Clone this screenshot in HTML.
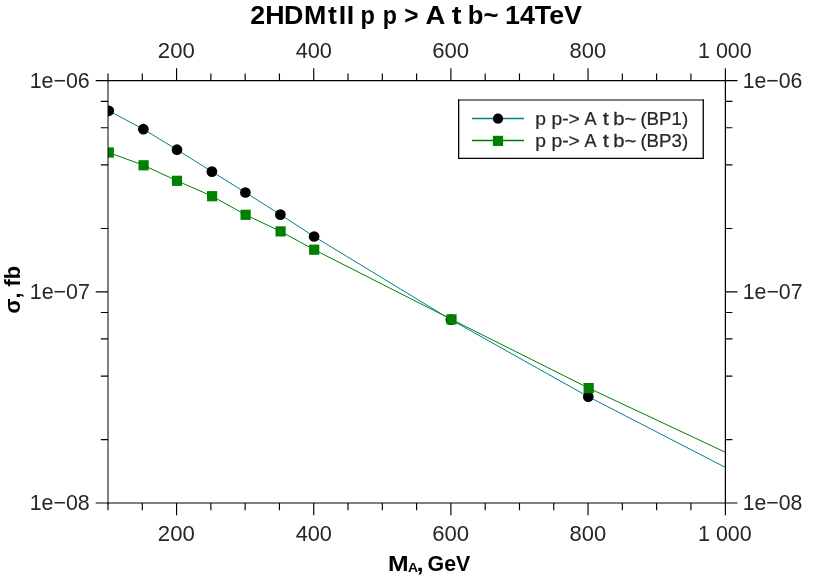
<!DOCTYPE html>
<html lang="en"><head><meta charset="utf-8"><title>2HDMtII p p &gt; A t b~ 14TeV</title>
<style>html,body{margin:0;padding:0;background:#fff;width:833px;height:576px;overflow:hidden}svg text{white-space:pre}</style>
</head><body>
<svg width="833" height="576" viewBox="0 0 833 576" style="display:block">
<rect width="833" height="576" fill="#fff"/>
<defs><clipPath id="c"><rect x="108.0" y="80.65" width="617.2" height="422.35"/></clipPath></defs>
<g clip-path="url(#c)">
<polyline fill="none" stroke="#008088" stroke-width="1.0" points="108.8,110.8 143.4,129.2 177.0,149.7 211.9,171.6 245.4,192.5 280.4,214.6 314.1,236.5 450.9,319.7 588.3,396.7 725.4,467.4"/>
<circle cx="108.8" cy="110.8" r="5.35" fill="#000"/>
<circle cx="143.4" cy="129.2" r="5.35" fill="#000"/>
<circle cx="177.0" cy="149.7" r="5.35" fill="#000"/>
<circle cx="211.9" cy="171.6" r="5.35" fill="#000"/>
<circle cx="245.4" cy="192.5" r="5.35" fill="#000"/>
<circle cx="280.4" cy="214.6" r="5.35" fill="#000"/>
<circle cx="314.1" cy="236.5" r="5.35" fill="#000"/>
<circle cx="450.9" cy="319.7" r="5.35" fill="#000"/>
<circle cx="588.3" cy="396.7" r="5.35" fill="#000"/>
<polyline fill="none" stroke="#008000" stroke-width="1.0" points="108.8,152.5 143.6,165.3 177.0,180.8 212.1,196.2 245.6,214.8 280.6,231.4 314.2,249.7 451.5,319.4 588.7,388.1 725.4,452.3"/>
<rect x="103.70" y="147.40" width="10.2" height="10.2" fill="#008000"/>
<rect x="138.50" y="160.20" width="10.2" height="10.2" fill="#008000"/>
<rect x="171.90" y="175.70" width="10.2" height="10.2" fill="#008000"/>
<rect x="207.00" y="191.10" width="10.2" height="10.2" fill="#008000"/>
<rect x="240.50" y="209.70" width="10.2" height="10.2" fill="#008000"/>
<rect x="275.50" y="226.30" width="10.2" height="10.2" fill="#008000"/>
<rect x="309.10" y="244.60" width="10.2" height="10.2" fill="#008000"/>
<rect x="446.40" y="314.30" width="10.2" height="10.2" fill="#008000"/>
<rect x="583.60" y="383.00" width="10.2" height="10.2" fill="#008000"/>
</g>
<g stroke="#000" fill="none">
<path stroke-width="1.3" d="M107.5 80.65H725.8000000000001"/>
<path stroke-width="1" d="M108.0 80.05000000000001V503.5"/>
<path stroke-width="1.25" d="M725.4 80.05000000000001V503.5"/>
<path stroke-width="1" d="M107.5 503.0H725.8000000000001"/>
<path stroke-width="1.15" d="M108.00 80.65v-7.2M108.00 503.0v7.2M142.29 80.65v-7.2M142.29 503.0v7.2M176.58 80.65v-12.3M176.58 503.0v12.3M210.87 80.65v-7.2M210.87 503.0v7.2M245.16 80.65v-7.2M245.16 503.0v7.2M279.44 80.65v-7.2M279.44 503.0v7.2M313.73 80.65v-12.3M313.73 503.0v12.3M348.02 80.65v-7.2M348.02 503.0v7.2M382.31 80.65v-7.2M382.31 503.0v7.2M416.60 80.65v-7.2M416.60 503.0v7.2M450.89 80.65v-12.3M450.89 503.0v12.3M485.18 80.65v-7.2M485.18 503.0v7.2M519.47 80.65v-7.2M519.47 503.0v7.2M553.76 80.65v-7.2M553.76 503.0v7.2M588.04 80.65v-12.3M588.04 503.0v12.3M622.33 80.65v-7.2M622.33 503.0v7.2M656.62 80.65v-7.2M656.62 503.0v7.2M690.91 80.65v-7.2M690.91 503.0v7.2M725.40 80.65v-12.3M725.40 503.0v12.3M108.0 80.65h-12.3M725.2 80.65h12.3M108.0 291.83h-12.3M725.2 291.83h12.3M108.0 503.00h-12.3M725.2 503.00h12.3M108.0 228.45h-7.2M725.2 228.45h7.2M108.0 164.88h-7.2M725.2 164.88h7.2M108.0 127.70h-7.2M725.2 127.70h7.2M108.0 101.31h-7.2M725.2 101.31h7.2M108.0 439.63h-7.2M725.2 439.63h7.2M108.0 376.06h-7.2M725.2 376.06h7.2M108.0 338.87h-7.2M725.2 338.87h7.2M108.0 312.49h-7.2M725.2 312.49h7.2"/>
</g>
<g font-family='"Liberation Sans", sans-serif' font-size="22" fill="#262626">
<text transform="translate(157.87 57.60) scale(0.9802 1)" font-size="22.6">200</text>
<text transform="translate(157.87 541.00) scale(0.9802 1)" font-size="22.6">200</text>
<text transform="translate(295.70 57.60) scale(0.9619 1)" font-size="22.6">400</text>
<text transform="translate(295.70 541.00) scale(0.9619 1)" font-size="22.6">400</text>
<text transform="translate(432.18 57.60) scale(0.9802 1)" font-size="22.6">600</text>
<text transform="translate(432.18 541.00) scale(0.9802 1)" font-size="22.6">600</text>
<text transform="translate(569.56 57.60) scale(0.9740 1)" font-size="22.6">800</text>
<text transform="translate(569.56 541.00) scale(0.9740 1)" font-size="22.6">800</text>
<text transform="translate(697.99 57.60) scale(0.9516 1)" font-size="22.6">1 000</text>
<text transform="translate(697.99 541.00) scale(0.9516 1)" font-size="22.6">1 000</text>
<text transform="translate(29.69 87.75) scale(0.9732 1)">1e−06</text>
<text transform="translate(742.71 87.75) scale(0.9664 1)">1e−06</text>
<text transform="translate(29.69 298.93) scale(0.9768 1)">1e−07</text>
<text transform="translate(742.70 298.93) scale(0.9700 1)">1e−07</text>
<text transform="translate(29.69 510.10) scale(0.9732 1)">1e−08</text>
<text transform="translate(742.71 510.10) scale(0.9664 1)">1e−08</text>
</g>
<g font-family='"Liberation Sans", sans-serif' font-weight="bold" fill="#000">
<text transform="translate(0 24.0) scale(1.0497 1)" font-size="25.5" x="238.49 252.80 270.58 289.60 312.50 322.64 330.45">2HDMtII</text>
<text transform="translate(360.57 24.00) scale(0.9241 1)" font-size="25.5">p</text>
<text transform="translate(382.79 24.00) scale(0.9086 1)" font-size="25.5">p</text>
<text transform="translate(404.33 24.00) scale(0.9552 1)" font-size="25.5">&gt;</text>
<text transform="translate(425.51 24.00) scale(1.0770 1)" font-size="25.5">A</text>
<text transform="translate(451.81 24.00) scale(1.1512 1)" font-size="25.5">t</text>
<text transform="translate(467.73 24.00) scale(1.0064 1)" font-size="25.5">b~</text>
<text transform="translate(504.99 24.00) scale(1.0513 1)" font-size="25.5">14TeV</text>
<text transform="translate(387.89 570.60) scale(1.1234 1)" font-size="22.0">M</text>
<text transform="translate(407.95 572.00) scale(1.1378 1)" font-size="12.2">A</text>
<text transform="translate(416.60 570.60) scale(1.1688 1)" font-size="22.0">,</text>
<text transform="translate(427.54 570.60) scale(0.9719 1)" font-size="22.0">GeV</text>
<text transform="translate(20.3 313.47) rotate(-90) scale(0.9890 1)" font-size="22">σ, fb</text>
</g>
<rect x="458.7" y="100" width="244.5" height="58.2" fill="#fff"/>
<g stroke="#000" fill="none"><path stroke-width="1" d="M458 100H703.9"/><path stroke-width="1.25" d="M458 158.25H703.9"/><path stroke-width="1.3" d="M458.65 99.5V158.8"/><path stroke-width="1.3" d="M703.25 99.5V158.8"/></g>
<path d="M472 118.5H524" stroke="#008088" stroke-width="1.35"/><circle cx="498" cy="118.7" r="5.1" fill="#000"/>
<path d="M472 140.5H524" stroke="#008000" stroke-width="1.35"/><rect x="492.9" y="135.8" width="10.2" height="10.2" fill="#008000"/>
<g font-family='"Liberation Sans", sans-serif' font-size="19" fill="#262626" stroke="#262626" stroke-width="0.25">
<text transform="translate(535.34 125.40) scale(1.0167 1)">p p-&gt;</text>
<text transform="translate(584.60 125.40) scale(0.9497 1)">A</text>
<text transform="translate(602.67 125.40) scale(1.1558 1)">t</text>
<text transform="translate(613.28 125.40) scale(1.0680 1)">b~</text>
<text transform="translate(640.38 125.40) scale(0.9835 1)">(BP1)</text>
<text transform="translate(535.34 147.40) scale(1.0167 1)">p p-&gt;</text>
<text transform="translate(584.60 147.40) scale(0.9497 1)">A</text>
<text transform="translate(602.67 147.40) scale(1.1558 1)">t</text>
<text transform="translate(613.28 147.40) scale(1.0680 1)">b~</text>
<text transform="translate(640.38 147.40) scale(0.9835 1)">(BP3)</text>
</g>
</svg>
</body></html>
